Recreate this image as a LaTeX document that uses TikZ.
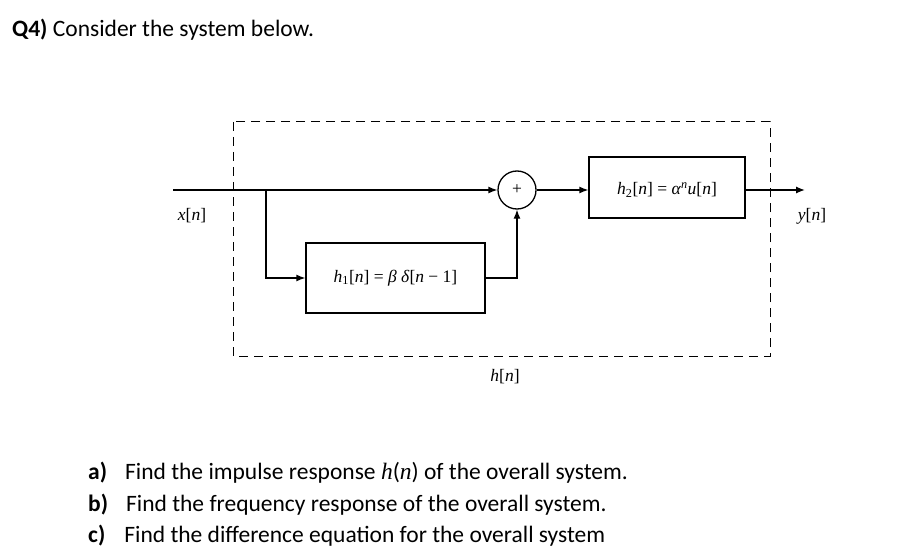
\documentclass[tikz,border=0pt]{standalone}
\usepackage{fontspec}
\setmainfont{Carlito}
\newfontfamily\lf{Liberation Serif}
\usetikzlibrary{arrows.meta}
\newcommand{\iv}[1]{\textit{#1}}
\begin{document}
\begin{tikzpicture}[x=1pt,y=-1pt,
  blk/.style={draw,line width=1.3pt,minimum height=0pt,inner sep=0pt},
  sig/.style={line width=1.3pt,-{Latex[length=9pt,width=7pt]}},
  lbl/.style={font=\lf\fontsize{17.5}{21}\selectfont},
  txt/.style={font=\fontsize{23.5}{28}\selectfont,anchor=base west,inner sep=0pt}]
\useasboundingbox (0,0) rectangle (904,548);
\draw[dashed,line width=1pt,dash pattern=on 9pt off 6pt] (233,122) rectangle (770,356);
\node[draw,circle,line width=1.3pt,minimum size=38pt,inner sep=0pt,lbl] (sum) at (517,190) {+};
\node[blk,minimum width=179pt,minimum height=70pt] (h1) at (395.5,278) {};
\node[lbl] at (h1) {\iv{h}\textsubscript{1}[\iv{n}] = \iv{β} \iv{δ}[\iv{n} − 1]};
\node[blk,minimum width=156pt,minimum height=61pt] (h2) at (667,187.5) {};
\node[lbl] at (h2.center |- 0,190) {\iv{h}\textsubscript{2}[\iv{n}] = \iv{α}\textsuperscript{\iv{n}}\iv{u}[\iv{n}]};
\coordinate (in) at (173,190);
\coordinate (br) at (266,190);
\coordinate (out) at (805,190);
\draw[sig] (in) -- (sum.west);
\draw[sig] (br) |- (h1.west);
\draw[sig] (h1.east) -| (sum.south);
\draw[sig] (sum.east) -- (h2.west |- sum.east);
\draw[sig] (h2.east |- sum.east) -- (out);
\node[lbl] (x) at (192,216) {\iv{x}[\iv{n}]};
\node[lbl] (y) at (812,216) {\iv{y}[\iv{n}]};
\node[lbl] (h) at (505,377) {\iv{h}[\iv{n}]};
\node[txt] (t) at (12,37) {\textbf{Q4)} Consider the system below.};
\node[txt] (a) at (88,479) {\textbf{a)}\hspace{18pt}Find the impulse response {\lf\itshape h}({\lf\itshape n}) of the overall system.};
\node[txt] (b) at (88,511) {\textbf{b)}\hspace{18pt}Find the frequency response of the overall system.};
\node[txt] (c) at (88,542) {\textbf{c)}\hspace{19pt}Find the difference equation for the overall system};
\end{tikzpicture}
\end{document}
